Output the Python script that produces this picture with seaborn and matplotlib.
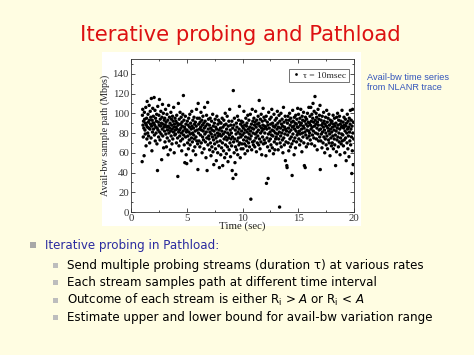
import numpy as np
import pandas as pd
import matplotlib
matplotlib.use("Agg")
import matplotlib.pyplot as plt
import seaborn as sns
from matplotlib.ticker import MultipleLocator
from matplotlib.patches import Rectangle

# ---- data: avail-bw samples (Mbps), 40 samples per second from t=1 to t=20 ----
bw_01 = [51, 98, 104, 88, 76, 92, 85, 57, 101, 94, 83, 79, 90, 106, 67, 88, 95, 74, 112, 86,
         80, 99, 91, 77, 85, 108, 93, 70, 84, 102, 89, 96, 75, 115, 87, 62, 93, 81, 105, 90]
bw_02 = [97, 84, 90, 116, 78, 88, 103, 72, 95, 86, 80, 92, 99, 69, 85, 42, 107, 83, 91, 76,
         98, 88, 114, 81, 73, 94, 87, 102, 79, 90, 53, 96, 84, 109, 77, 89, 100, 65, 86, 93]
bw_03 = [82, 95, 71, 88, 104, 79, 91, 66, 86, 99, 75, 83, 93, 58, 87, 108, 80, 72, 96, 85,
         90, 63, 82, 101, 77, 94, 88, 69, 84, 97, 74, 92, 81, 106, 86, 60, 89, 78, 95, 83]
bw_04 = [79, 92, 86, 70, 98, 84, 90, 75, 36, 88, 110, 81, 67, 94, 83, 77, 101, 89, 72, 85,
         96, 80, 62, 91, 87, 74, 99, 82, 118, 78, 93, 68, 86, 50, 84, 97, 76, 89, 58, 81]
bw_05 = [49, 83, 92, 70, 77, 88, 64, 95, 81, 73, 86, 99, 68, 79, 90, 52, 84, 75, 102, 87,
         71, 80, 93, 62, 85, 78, 96, 74, 89, 66, 82, 91, 58, 76, 87, 104, 72, 83, 95, 69]
bw_06 = [43, 110, 80, 89, 72, 95, 84, 66, 91, 78, 86, 101, 70, 83, 93, 60, 88, 76, 97, 82,
         73, 90, 64, 85, 106, 79, 92, 71, 87, 55, 81, 98, 75, 42, 89, 111, 68, 84, 94, 77]
bw_07 = [74, 88, 63, 81, 95, 70, 85, 57, 79, 92, 66, 83, 76, 99, 61, 87, 73, 48, 82, 90,
         69, 78, 94, 64, 86, 75, 52, 84, 97, 71, 80, 60, 89, 77, 93, 67, 83, 45, 79, 91]
bw_08 = [72, 85, 58, 90, 77, 65, 82, 95, 70, 47, 86, 79, 62, 93, 74, 88, 55, 81, 100, 68,
         76, 89, 59, 84, 73, 97, 66, 80, 51, 87, 75, 92, 63, 78, 104, 70, 83, 56, 88, 74]
bw_09 = [80, 67, 92, 42, 76, 85, 34, 123, 71, 88, 60, 95, 74, 50, 83, 66, 38, 79, 90, 63,
         86, 72, 97, 58, 81, 75, 93, 68, 84, 107, 70, 79, 55, 89, 76, 64, 92, 82, 69, 87]
bw_10 = [78, 91, 64, 85, 73, 102, 80, 69, 88, 59, 83, 76, 95, 67, 87, 72, 90, 81, 62, 98,
         75, 84, 70, 93, 79, 66, 86, 74, 99, 82, 13, 77, 89, 63, 85, 104, 71, 92, 80, 68]
bw_11 = [84, 95, 72, 88, 66, 91, 79, 102, 75, 86, 61, 93, 81, 70, 89, 77, 97, 83, 68, 90,
         113, 74, 87, 64, 94, 80, 71, 99, 85, 58, 82, 92, 76, 88, 105, 69, 84, 96, 73, 87]
bw_12 = [80, 93, 70, 86, 57, 97, 29, 84, 75, 91, 66, 88, 34, 79, 101, 72, 85, 62, 94, 81,
         74, 89, 68, 96, 78, 104, 83, 65, 90, 77, 87, 59, 82, 99, 71, 86, 63, 93, 80, 74]
bw_13 = [88, 76, 95, 69, 84, 102, 79, 90, 63, 86, 74, 98, 81, 5, 92, 70, 85, 77, 100, 66,
         89, 80, 94, 73, 87, 60, 83, 106, 75, 91, 68, 86, 79, 97, 52, 84, 71, 93, 82, 47]
bw_14 = [45, 90, 78, 97, 70, 85, 62, 93, 81, 100, 74, 88, 66, 95, 83, 76, 91, 69, 37, 86,
         103, 79, 92, 72, 87, 58, 96, 84, 75, 90, 65, 98, 82, 89, 71, 94, 78, 86, 105, 80]
bw_15 = [86, 99, 74, 91, 82, 68, 95, 79, 88, 104, 72, 90, 84, 61, 97, 80, 93, 76, 87, 101,
         70, 85, 47, 92, 81, 45, 96, 78, 89, 66, 94, 83, 75, 100, 87, 69, 91, 82, 106, 77]
bw_16 = [90, 80, 97, 73, 88, 106, 84, 92, 69, 99, 86, 78, 95, 110, 82, 91, 75, 102, 87, 67,
         117, 93, 80, 89, 100, 74, 96, 85, 63, 91, 79, 104, 88, 72, 94, 83, 98, 76, 108, 43]
bw_17 = [84, 72, 93, 79, 88, 65, 97, 81, 90, 70, 86, 101, 76, 92, 83, 60, 89, 74, 96, 80,
         68, 87, 103, 77, 91, 64, 85, 95, 73, 82, 99, 70, 88, 79, 57, 93, 84, 75, 90, 67]
bw_18 = [81, 92, 70, 86, 77, 98, 64, 89, 83, 74, 95, 68, 87, 78, 47, 90, 82, 61, 96, 73,
         85, 100, 76, 88, 66, 93, 80, 71, 97, 84, 58, 89, 75, 92, 69, 86, 79, 103, 72, 87]
bw_19 = [78, 91, 67, 85, 96, 73, 88, 60, 82, 94, 75, 87, 52, 90, 80, 70, 99, 84, 64, 92,
         77, 86, 56, 95, 81, 72, 89, 103, 68, 84, 93, 76, 39, 87, 62, 104, 80, 48, 91, 74]

blocks = [bw_01, bw_02, bw_03, bw_04, bw_05, bw_06, bw_07, bw_08, bw_09, bw_10,
          bw_11, bw_12, bw_13, bw_14, bw_15, bw_16, bw_17, bw_18, bw_19]
sample_step = 0.025  # seconds between plotted samples
start_time = 1.0

bw = np.concatenate(blocks)
t = start_time + sample_step * np.arange(len(bw))
df = pd.DataFrame({"Time (sec)": t, "bw": bw, "series": "\u03c4 = 10msec"})

title_text = "Iterative probing and Pathload"
side_note = "Avail-bw time series\nfrom NLANR trace"
main_bullet = "Iterative probing in Pathload:"
sub_bullets = [
    "Send multiple probing streams (duration \u03c4) at various rates",
    "Each stream samples path at different time interval",
    "Outcome of each stream is either R$_{\\mathregular{i}}$ > $\\mathit{A}$ or R$_{\\mathregular{i}}$ < $\\mathit{A}$",
    "Estimate upper and lower bound for avail-bw variation range",
]

# ---- figure ----
sns.set_theme(style="ticks")
plt.rcParams['font.family'] = ['DejaVu Sans']
W, H = 474, 355
bg = "#FFFDE2"
fig = plt.figure(figsize=(W / 100, H / 100), dpi=100, facecolor=bg)

# white chart image background
fig.patches.append(Rectangle((102 / W, 1 - 226 / H), (361 - 102) / W, (226 - 52) / H,
                             transform=fig.transFigure, facecolor="white",
                             edgecolor="none", zorder=-5))

ax = fig.add_axes([131 / W, 1 - 212 / H, (354 - 131) / W, (212 - 59) / H])
ax.set_zorder(2)
ax.set_facecolor("white")
sns.scatterplot(data=df, x="Time (sec)", y="bw", hue="series", palette=["black"],
                s=6, marker="o", linewidth=0, ax=ax, legend=True)
ax.set_xlim(0, 20)
ax.set_ylim(0, 155)
ax.xaxis.set_major_locator(MultipleLocator(5))
ax.xaxis.set_minor_locator(MultipleLocator(2.5))
ax.yaxis.set_major_locator(MultipleLocator(20))
ax.yaxis.set_minor_locator(MultipleLocator(10))
ax.tick_params(which="both", direction="in", top=True, right=True, colors="#333333",
               labelsize=7.8, pad=1.5, width=0.6)
ax.tick_params(which="major", length=3)
ax.tick_params(which="minor", length=1.5)
for lbl in ax.get_xticklabels() + ax.get_yticklabels():
    lbl.set_family("Liberation Serif")
for sp in ax.spines.values():
    sp.set_linewidth(0.6)
    sp.set_color("#333333")
ax.set_xlabel("Time (sec)", fontsize=7.8, family="Liberation Serif", labelpad=-1, color="#222222")
ax.set_ylabel("Avail-bw sample path (Mbps)", fontsize=7.3, family="Liberation Serif",
              labelpad=2, color="#222222")

leg = ax.legend(loc="upper right", bbox_to_anchor=(0.985, 0.95), frameon=True, fancybox=False,
                prop={"family": "Liberation Serif", "size": 6.8}, handletextpad=0.3,
                handlelength=1.0, borderpad=0.25, borderaxespad=0.2, markerscale=0.8)
leg.get_frame().set_edgecolor("#333333")
leg.get_frame().set_linewidth(0.6)

# ---- slide text ----
fig.text(240 / W, 1 - 35 / H, title_text, color="#DD1111", fontsize=15.2,
         ha="center", va="center")
fig.text(367 / W, 1 - 73 / H, side_note, color="#3355BB", fontsize=6.6,
         family="Liberation Sans", ha="left", va="top", linespacing=1.2)

fig.patches.append(Rectangle((30 / W, 1 - 248 / H), 6 / W, 6 / H, transform=fig.transFigure,
                             facecolor="#A8A8A8", edgecolor="none"))
fig.text(45 / W, 1 - 245 / H, main_bullet, color="#2B2BA0", fontsize=8.6,
         ha="left", va="center")
for i, s in enumerate(sub_bullets):
    y = 265 + i * 17.6
    fig.patches.append(Rectangle((53 / W, 1 - (y + 2.5) / H), 5 / W, 5 / H,
                                 transform=fig.transFigure, facecolor="#BDBDBD",
                                 edgecolor="none"))
    fig.text(67 / W, 1 - y / H, s, color="black", fontsize=8.55, ha="left", va="center")

fig.savefig("out.png", dpi=100, facecolor=bg)
